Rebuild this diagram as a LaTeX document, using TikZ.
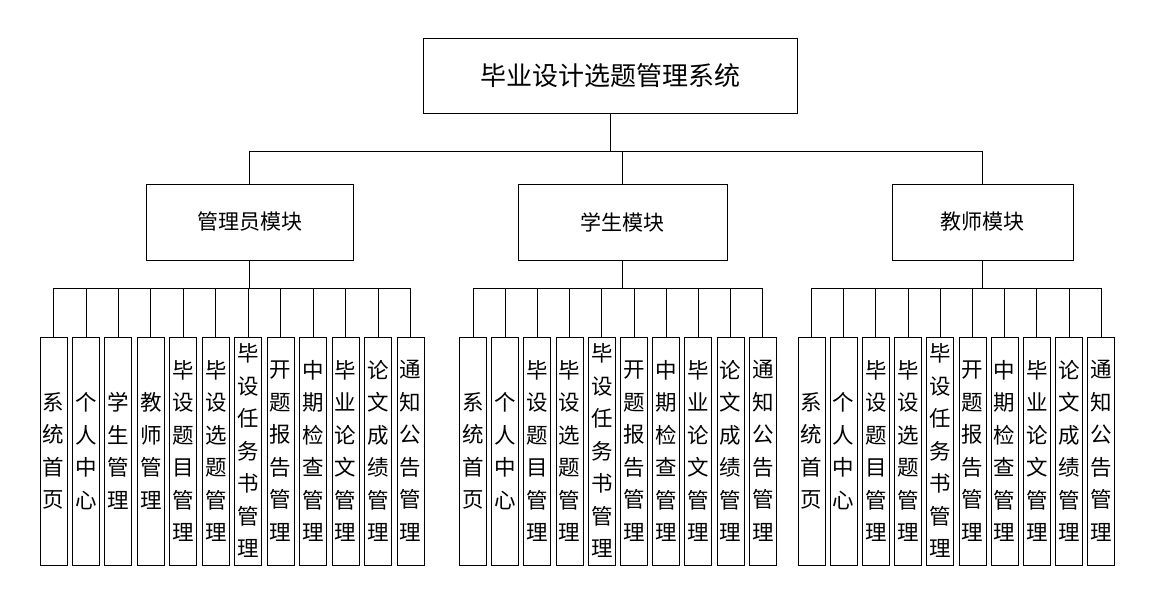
\documentclass[tikz,border=0pt]{standalone}
\usepackage{fontspec}
\setmainfont{Noto Sans CJK SC}
% stack the characters of a label one under another
\def\vstack#1{\expandafter\vstackA#1\end}
\def\vstackA#1#2\end{#1\ifx\relax#2\relax\else\\\vstackA#2\end\fi}
\begin{document}
\begin{tikzpicture}[x=1pt,y=-1pt,
    box/.style={draw,inner sep=0pt,line width=0.9pt},
    module/.style={box,minimum height=76pt,font=\fontsize{21}{25}\selectfont},
    leaf/.style={box,minimum width=27pt,minimum height=228pt,align=center,font=\fontsize{21.5}{32.5}\selectfont},
    every path/.style={line width=0.9pt}]
    \useasboundingbox (0,0) rectangle (1167,594);
    \node[box,minimum width=374pt,minimum height=75pt,font=\fontsize{26}{30}\selectfont] (sys) at (610,75.5) {毕业设计选题管理系统};
    \node[module,minimum width=207pt] (admin) at (249.5,222) {管理员模块};
    \node[module,minimum width=209pt] (stu) at (622.5,222) {学生模块};
    \node[module,minimum width=181pt] (tea) at (982.5,222) {教师模块};
    % first level bus
    \coordinate (bus) at (0,151);
    \draw (sys.south) -- (sys.south |- bus);
    \draw (admin.north) |- (tea.north |- bus) -- (tea.north);
    \draw (stu.north) -- (stu.north |- bus);
    % admin leaves
    \coordinate (low) at (0,288);
    \foreach \lbl [count=\i from 0] in {系统首页,个人中心,学生管理,教师管理,毕设题目管理,毕设选题管理,毕设任务书管理,开题报告管理,中期检查管理,毕业论文管理,论文成绩管理,通知公告管理}{
        \node[leaf] (a\i) at (53.5+32.45*\i,451) {\vstack{\lbl}};
        \draw (a\i.north) -- (a\i.north |- low);
    }
    \draw (a0.north |- low) -- (a11.north |- low);
    \draw (admin.south) -- (admin.south |- low);
    % student leaves
    \foreach \lbl [count=\i from 0] in {系统首页,个人中心,毕设题目管理,毕设选题管理,毕设任务书管理,开题报告管理,中期检查管理,毕业论文管理,论文成绩管理,通知公告管理}{
        \node[leaf] (s\i) at (473+32.2*\i,451) {\vstack{\lbl}};
        \draw (s\i.north) -- (s\i.north |- low);
    }
    \draw (s0.north |- low) -- (s9.north |- low);
    \draw (stu.south) -- (stu.south |- low);
    % teacher leaves
    \foreach \lbl [count=\i from 0] in {系统首页,个人中心,毕设题目管理,毕设选题管理,毕设任务书管理,开题报告管理,中期检查管理,毕业论文管理,论文成绩管理,通知公告管理}{
        \node[leaf] (t\i) at (811.5+32.2*\i,451) {\vstack{\lbl}};
        \draw (t\i.north) -- (t\i.north |- low);
    }
    \draw (t0.north |- low) -- (t9.north |- low);
    \draw (tea.south) -- (tea.south |- low);
\end{tikzpicture}
\end{document}
